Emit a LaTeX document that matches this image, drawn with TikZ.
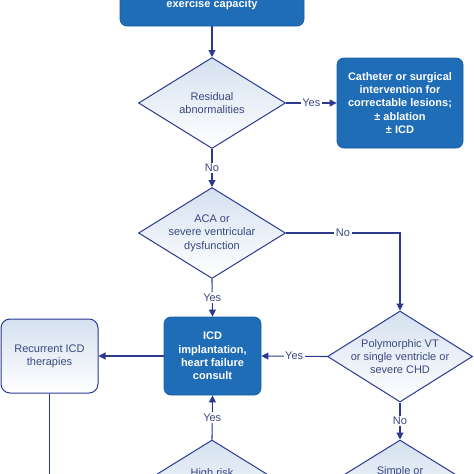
\documentclass[tikz,border=0pt]{standalone}
\usepackage{fontspec}
\setmainfont{Liberation Sans}
\usetikzlibrary{shapes.geometric,arrows.meta,shadings}
\definecolor{navy}{HTML}{2B3990}
\definecolor{boxblue}{HTML}{1F6DB7}
\definecolor{boxedge}{HTML}{1A5EA6}
\definecolor{dtxt}{HTML}{3A4880}
\definecolor{lightb}{HTML}{D5E1F0}
\begin{document}
\begin{tikzpicture}[x=1pt,y=-1pt,
  txt/.style={font=\fontsize{11}{13.3}\selectfont,align=center},
  bluebox/.style={txt,rectangle,rounded corners=7pt,fill=boxblue,draw=boxedge,line width=0.8pt,text=white,font=\fontsize{11}{13.3}\selectfont\bfseries,inner sep=0pt},
  lightbox/.style={rectangle,rounded corners=9pt,top color=lightb,bottom color=white,draw=navy,line width=1pt,inner sep=0pt},
  dia/.style={diamond,top color=lightb,bottom color=white,draw=navy,line width=1pt,inner sep=0pt,minimum width=147pt,minimum height=91pt},
  dlab/.style={txt,text=dtxt},
  conn/.style={draw=navy,line width=1.1pt},
  arr/.style={conn,-{Triangle[length=7pt,width=7pt]}},
  elab/.style={txt,text=dtxt,fill=white,inner sep=1.5pt}
]
\useasboundingbox (0,0) rectangle (474,474);
\clip (0,0) rectangle (474,474);
% nodes
\node[bluebox,minimum width=184pt,minimum height=42pt] (top) at (212,5) {exercise capacity};
\node[dia] (d1) at (212,103) {};
\node[dlab] at (d1.center) {Residual\\abnormalities};
\node[bluebox,minimum width=126pt,minimum height=90pt] (cath) at (400,103) {Catheter or surgical\\intervention for\\correctable lesions;\\± ablation\\± ICD};
\node[dia] (d2) at (212,233) {};
\node[dlab] at (d2.center) {ACA or\\severe ventricular\\dysfunction};
\node[dia,minimum width=145pt] (d3) at (400,356.5) {};
\node[dlab] at (d3.center) {Polymorphic VT\\or single ventricle or\\severe CHD};
\node[bluebox,minimum width=97pt,minimum height=78pt] (icd) at (212.5,356) {ICD\\implantation,\\heart failure\\consult};
\node[lightbox,minimum width=97pt,minimum height=74pt] (rec) at (49.5,356) {};
\node[dlab] at (rec.center) {Recurrent ICD\\therapies};
\node[dia] (d4) at (212,485.5) {};
\node[dlab,anchor=base] at (212,476) {High risk};
\node[dia] (d5) at (400,485.5) {};
\node[dlab,anchor=base] at (400,474) {Simple or};
\coordinate (recend) at (49.5,480);
% connectors
\draw[arr] (top.south) -- (d1.north);
\draw[arr] (d1.east) -- node[elab]{Yes} (cath.west);
\draw[arr] (d1.south) -- node[elab]{No} (d2.north);
\draw[arr] (d2.east) -- node[elab,pos=0.5]{No} (d2.east -| d3.north) -- (d3.north);
\draw[arr] (d2.south) -- node[elab]{Yes} (icd.north);
\draw[arr] (d3.west) -- node[elab]{Yes} (icd.east);
\draw[arr] (icd.west) -- (rec.east);
\draw[arr] (d3.south) -- node[elab]{No} (d5.north);
\draw[arr] (d4.north) -- node[elab]{Yes} (icd.south);
\draw[conn] (rec.south) -- (recend);
\end{tikzpicture}
\end{document}
